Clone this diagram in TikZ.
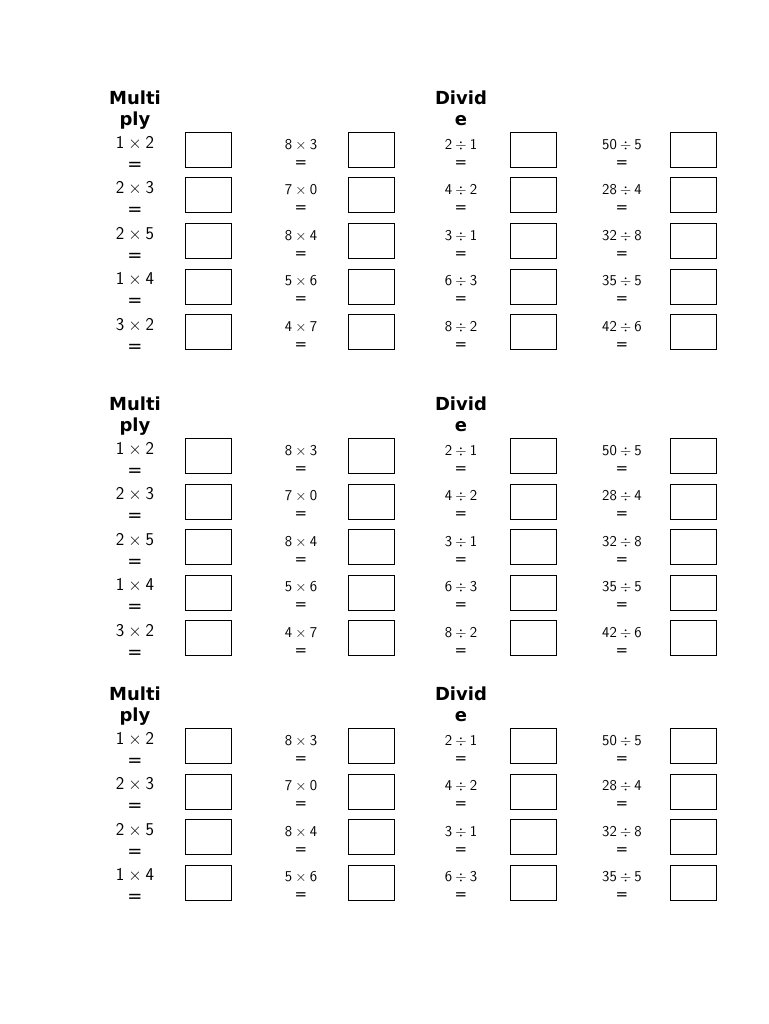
\documentclass[tikz,border=0pt]{standalone}
\usepackage{fontspec}
\setmainfont{DejaVu Sans}
\begin{document}
\begin{tikzpicture}[x=1pt,y=-1pt,
  ansbox/.style={draw,line width=0.8pt,minimum width=46pt,minimum height=35pt,inner sep=0pt,anchor=north west},
  big/.style={font=\fontsize{18}{18}\selectfont,inner sep=0pt},
  small/.style={font=\fontsize{15}{15}\selectfont,inner sep=0pt},
  ttl/.style={font=\bfseries\fontsize{18}{18}\selectfont,inner sep=0pt}]
\useasboundingbox (0,0) rectangle (768,1024);
\def\colA{{"1 $\times$ 2","2 $\times$ 3","2 $\times$ 5","1 $\times$ 4","3 $\times$ 2"}}
\foreach \off/\nr [count=\s] in {0/5,306/5,596/4}{
  \node[ttl] (mt\s) at (135,98+\off) {Multi};
  \node[ttl] (mp\s) at (135,121+\off) {ply};
  \node[ttl] (dt\s) at (461,98+\off) {Divid};
  \node[ttl] (de\s) at (461,121+\off) {e};
  \foreach \a/\b/\c/\d [count=\r] in {1 \times 2/8 \times 3/2 \div 1/50 \div 5,
      2 \times 3/7 \times 0/4 \div 2/28 \div 4,
      2 \times 5/8 \times 4/3 \div 1/32 \div 8,
      1 \times 4/5 \times 6/6 \div 3/35 \div 5,
      3 \times 2/4 \times 7/8 \div 2/42 \div 6}{
    \ifnum\r>\nr\else
    \pgfmathsetmacro\yy{143+45.5*(\r-1)+\off}
    \node[big] (a\s\r) at (135,\yy) {$\mathsf{\a}$};
    \node[big] (ae\s\r) at (135,\yy+23) {=};
    \node[small] (b\s\r) at (301,\yy+2) {$\mathsf{\b}$};
    \node[small] (be\s\r) at (301,\yy+21) {=};
    \node[small] (c\s\r) at (461,\yy+2) {$\mathsf{\c}$};
    \node[small] (ce\s\r) at (461,\yy+21) {=};
    \node[small] (d\s\r) at (622,\yy+2) {$\mathsf{\d}$};
    \node[small] (de\s\r) at (622,\yy+21) {=};
    \node[ansbox] (ba\s\r) at (185,\yy-11) {};
    \node[ansbox] (bb\s\r) at (348,\yy-11) {};
    \node[ansbox] (bc\s\r) at (510,\yy-11) {};
    \node[ansbox] (bd\s\r) at (670,\yy-11) {};
    \fi
  }
}
\end{tikzpicture}
\end{document}
